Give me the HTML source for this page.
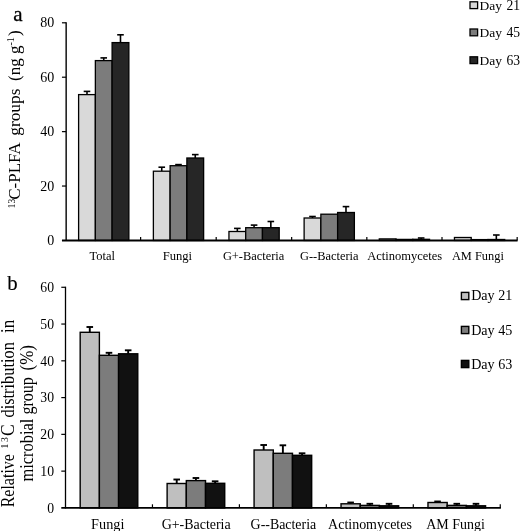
<!DOCTYPE html>
<html><head><meta charset="utf-8"><title>Figure</title>
<style>
html,body{margin:0;padding:0;background:#fff;}
svg{display:block;}
svg text{font-family:"Liberation Serif","Times New Roman",serif;fill:#000;}
</style></head><body>
<svg width="520" height="531" viewBox="0 0 520 531">
<rect x="0" y="0" width="520" height="531" fill="#fff"/>
<line x1="86.99" y1="94.60" x2="86.99" y2="91.40" stroke="#000" stroke-width="1.6"/>
<line x1="83.69" y1="91.40" x2="90.29" y2="91.40" stroke="#000" stroke-width="1.6"/>
<rect x="78.61" y="94.60" width="16.75" height="145.85" fill="#d9d9d9" stroke="#000" stroke-width="1.3"/>
<line x1="103.74" y1="60.60" x2="103.74" y2="57.90" stroke="#000" stroke-width="1.6"/>
<line x1="100.44" y1="57.90" x2="107.04" y2="57.90" stroke="#000" stroke-width="1.6"/>
<rect x="95.36" y="60.60" width="16.75" height="179.85" fill="#7c7c7c" stroke="#000" stroke-width="1.3"/>
<line x1="120.49" y1="42.60" x2="120.49" y2="34.80" stroke="#000" stroke-width="1.6"/>
<line x1="117.19" y1="34.80" x2="123.79" y2="34.80" stroke="#000" stroke-width="1.6"/>
<rect x="112.11" y="42.60" width="16.75" height="197.85" fill="#262626" stroke="#000" stroke-width="1.3"/>
<line x1="161.75" y1="171.20" x2="161.75" y2="167.20" stroke="#000" stroke-width="1.6"/>
<line x1="158.45" y1="167.20" x2="165.06" y2="167.20" stroke="#000" stroke-width="1.6"/>
<rect x="153.38" y="171.20" width="16.75" height="69.25" fill="#d9d9d9" stroke="#000" stroke-width="1.3"/>
<line x1="178.50" y1="165.70" x2="178.50" y2="164.60" stroke="#000" stroke-width="1.6"/>
<line x1="175.20" y1="164.60" x2="181.81" y2="164.60" stroke="#000" stroke-width="1.6"/>
<rect x="170.13" y="165.70" width="16.75" height="74.75" fill="#7c7c7c" stroke="#000" stroke-width="1.3"/>
<line x1="195.25" y1="158.00" x2="195.25" y2="154.60" stroke="#000" stroke-width="1.6"/>
<line x1="191.95" y1="154.60" x2="198.56" y2="154.60" stroke="#000" stroke-width="1.6"/>
<rect x="186.88" y="158.00" width="16.75" height="82.45" fill="#262626" stroke="#000" stroke-width="1.3"/>
<line x1="237.33" y1="231.50" x2="237.33" y2="228.40" stroke="#000" stroke-width="1.6"/>
<line x1="234.03" y1="228.40" x2="240.63" y2="228.40" stroke="#000" stroke-width="1.6"/>
<rect x="228.95" y="231.50" width="16.75" height="8.95" fill="#d9d9d9" stroke="#000" stroke-width="1.3"/>
<line x1="254.08" y1="227.70" x2="254.08" y2="225.10" stroke="#000" stroke-width="1.6"/>
<line x1="250.78" y1="225.10" x2="257.38" y2="225.10" stroke="#000" stroke-width="1.6"/>
<rect x="245.70" y="227.70" width="16.75" height="12.75" fill="#7c7c7c" stroke="#000" stroke-width="1.3"/>
<line x1="270.83" y1="227.70" x2="270.83" y2="221.50" stroke="#000" stroke-width="1.6"/>
<line x1="267.53" y1="221.50" x2="274.13" y2="221.50" stroke="#000" stroke-width="1.6"/>
<rect x="262.45" y="227.70" width="16.75" height="12.75" fill="#262626" stroke="#000" stroke-width="1.3"/>
<line x1="312.49" y1="218.00" x2="312.49" y2="216.50" stroke="#000" stroke-width="1.6"/>
<line x1="309.19" y1="216.50" x2="315.79" y2="216.50" stroke="#000" stroke-width="1.6"/>
<rect x="304.12" y="218.00" width="16.75" height="22.45" fill="#d9d9d9" stroke="#000" stroke-width="1.3"/>
<rect x="320.87" y="214.20" width="16.75" height="26.25" fill="#7c7c7c" stroke="#000" stroke-width="1.3"/>
<line x1="345.99" y1="212.50" x2="345.99" y2="206.60" stroke="#000" stroke-width="1.6"/>
<line x1="342.69" y1="206.60" x2="349.29" y2="206.60" stroke="#000" stroke-width="1.6"/>
<rect x="337.62" y="212.50" width="16.75" height="27.95" fill="#262626" stroke="#000" stroke-width="1.3"/>
<rect x="379.29" y="238.90" width="16.75" height="1.55" fill="#d9d9d9" stroke="#000" stroke-width="1.3"/>
<rect x="396.04" y="239.40" width="16.75" height="1.05" fill="#7c7c7c" stroke="#000" stroke-width="1.3"/>
<line x1="421.17" y1="239.30" x2="421.17" y2="238.00" stroke="#000" stroke-width="1.6"/>
<line x1="417.87" y1="238.00" x2="424.47" y2="238.00" stroke="#000" stroke-width="1.6"/>
<rect x="412.79" y="239.30" width="16.75" height="1.15" fill="#262626" stroke="#000" stroke-width="1.3"/>
<rect x="454.46" y="237.50" width="16.75" height="2.95" fill="#d9d9d9" stroke="#000" stroke-width="1.3"/>
<rect x="471.21" y="239.60" width="16.75" height="0.85" fill="#7c7c7c" stroke="#000" stroke-width="1.3"/>
<line x1="496.33" y1="239.50" x2="496.33" y2="235.00" stroke="#000" stroke-width="1.6"/>
<line x1="493.03" y1="235.00" x2="499.63" y2="235.00" stroke="#000" stroke-width="1.6"/>
<rect x="487.96" y="239.50" width="16.75" height="0.95" fill="#262626" stroke="#000" stroke-width="1.3"/>
<line x1="66.15" y1="22.20" x2="66.15" y2="241.05" stroke="#000" stroke-width="1.4"/>
<line x1="61.95" y1="240.45" x2="517.60" y2="240.45" stroke="#000" stroke-width="1.9"/>
<text x="54.20" y="245.05" font-size="14" text-anchor="end">0</text>
<line x1="61.95" y1="186.04" x2="66.15" y2="186.04" stroke="#000" stroke-width="1.2"/>
<text x="54.20" y="190.64" font-size="14" text-anchor="end">20</text>
<line x1="61.95" y1="131.63" x2="66.15" y2="131.63" stroke="#000" stroke-width="1.2"/>
<text x="54.20" y="136.23" font-size="14" text-anchor="end">40</text>
<line x1="61.95" y1="77.21" x2="66.15" y2="77.21" stroke="#000" stroke-width="1.2"/>
<text x="54.20" y="81.81" font-size="14" text-anchor="end">60</text>
<line x1="61.95" y1="22.80" x2="66.15" y2="22.80" stroke="#000" stroke-width="1.2"/>
<text x="54.20" y="27.40" font-size="14" text-anchor="end">80</text>
<line x1="140.62" y1="240.45" x2="140.62" y2="237.05" stroke="#000" stroke-width="1.2"/>
<line x1="216.19" y1="240.45" x2="216.19" y2="237.05" stroke="#000" stroke-width="1.2"/>
<line x1="291.66" y1="240.45" x2="291.66" y2="237.05" stroke="#000" stroke-width="1.2"/>
<line x1="366.83" y1="240.45" x2="366.83" y2="237.05" stroke="#000" stroke-width="1.2"/>
<line x1="442.00" y1="240.45" x2="442.00" y2="237.05" stroke="#000" stroke-width="1.2"/>
<line x1="517.17" y1="240.45" x2="517.17" y2="237.05" stroke="#000" stroke-width="1.2"/>
<text x="102.24" y="259.80" font-size="12.45" text-anchor="middle">Total</text>
<text x="177.41" y="259.80" font-size="12.6" text-anchor="middle">Fungi</text>
<text x="253.58" y="259.80" font-size="12.4" text-anchor="middle">G+-Bacteria</text>
<text x="329.25" y="259.80" font-size="12.4" text-anchor="middle">G--Bacteria</text>
<text x="404.71" y="259.80" font-size="12.5" text-anchor="middle">Actinomycetes</text>
<text x="477.89" y="259.80" font-size="12.4" text-anchor="middle">AM Fungi</text>
<rect x="470.00" y="1.80" width="7.60" height="6.80" fill="#d9d9d9" stroke="#000" stroke-width="1.3"/>
<text x="479.50" y="9.60" font-size="13.5" text-anchor="start">Day</text>
<text x="506.40" y="9.60" font-size="13.6" text-anchor="start">21</text>
<rect x="470.00" y="29.00" width="7.60" height="6.80" fill="#7c7c7c" stroke="#000" stroke-width="1.3"/>
<text x="479.50" y="37.40" font-size="13.5" text-anchor="start">Day</text>
<text x="506.40" y="37.40" font-size="13.6" text-anchor="start">45</text>
<rect x="470.00" y="56.80" width="7.60" height="6.80" fill="#262626" stroke="#000" stroke-width="1.3"/>
<text x="479.50" y="64.90" font-size="13.5" text-anchor="start">Day</text>
<text x="506.40" y="64.90" font-size="13.6" text-anchor="start">63</text>
<text x="13.30" y="21.30" font-size="21" text-anchor="start" stroke="#000" stroke-width="0.3">a</text>
<text transform="translate(14.90,208.20) rotate(-90) scale(1.0,1)" font-size="9.3">13</text>
<text transform="translate(20.20,199.70) rotate(-90) scale(0.971,1)" font-size="17.5">C-PLFA</text>
<text transform="translate(20.20,135.80) rotate(-90) scale(0.992,1)" font-size="17.5">groups</text>
<text transform="translate(20.20,81.00) rotate(-90) scale(0.971,1)" font-size="17.5">(ng</text>
<text transform="translate(20.20,54.00) rotate(-90) scale(0.971,1)" font-size="17.5">g</text>
<text transform="translate(13.80,45.50) rotate(-90) scale(1.0,1)" font-size="10.0">-1</text>
<text transform="translate(20.20,36.00) rotate(-90) scale(0.971,1)" font-size="17.5">)</text>
<line x1="89.78" y1="332.30" x2="89.78" y2="327.00" stroke="#000" stroke-width="1.9"/>
<line x1="86.48" y1="327.00" x2="93.08" y2="327.00" stroke="#000" stroke-width="1.9"/>
<rect x="80.18" y="332.30" width="19.20" height="175.60" fill="#bfbfbf" stroke="#000" stroke-width="1.4"/>
<line x1="108.98" y1="355.30" x2="108.98" y2="352.80" stroke="#000" stroke-width="1.9"/>
<line x1="105.68" y1="352.80" x2="112.28" y2="352.80" stroke="#000" stroke-width="1.9"/>
<rect x="99.38" y="355.30" width="19.20" height="152.60" fill="#7c7c7c" stroke="#000" stroke-width="1.4"/>
<line x1="128.18" y1="353.80" x2="128.18" y2="350.30" stroke="#000" stroke-width="1.9"/>
<line x1="124.88" y1="350.30" x2="131.48" y2="350.30" stroke="#000" stroke-width="1.9"/>
<rect x="118.58" y="353.80" width="19.20" height="154.10" fill="#111111" stroke="#000" stroke-width="1.4"/>
<line x1="176.72" y1="483.50" x2="176.72" y2="479.50" stroke="#000" stroke-width="1.9"/>
<line x1="173.42" y1="479.50" x2="180.03" y2="479.50" stroke="#000" stroke-width="1.9"/>
<rect x="167.12" y="483.50" width="19.20" height="24.40" fill="#bfbfbf" stroke="#000" stroke-width="1.4"/>
<line x1="195.92" y1="480.60" x2="195.92" y2="478.00" stroke="#000" stroke-width="1.9"/>
<line x1="192.62" y1="478.00" x2="199.22" y2="478.00" stroke="#000" stroke-width="1.9"/>
<rect x="186.32" y="480.60" width="19.20" height="27.30" fill="#7c7c7c" stroke="#000" stroke-width="1.4"/>
<line x1="215.12" y1="483.30" x2="215.12" y2="481.30" stroke="#000" stroke-width="1.9"/>
<line x1="211.82" y1="481.30" x2="218.43" y2="481.30" stroke="#000" stroke-width="1.9"/>
<rect x="205.53" y="483.30" width="19.20" height="24.60" fill="#111111" stroke="#000" stroke-width="1.4"/>
<line x1="263.68" y1="450.00" x2="263.68" y2="445.00" stroke="#000" stroke-width="1.9"/>
<line x1="260.38" y1="445.00" x2="266.98" y2="445.00" stroke="#000" stroke-width="1.9"/>
<rect x="254.08" y="450.00" width="19.20" height="57.90" fill="#bfbfbf" stroke="#000" stroke-width="1.4"/>
<line x1="282.88" y1="453.30" x2="282.88" y2="445.30" stroke="#000" stroke-width="1.9"/>
<line x1="279.58" y1="445.30" x2="286.18" y2="445.30" stroke="#000" stroke-width="1.9"/>
<rect x="273.28" y="453.30" width="19.20" height="54.60" fill="#7c7c7c" stroke="#000" stroke-width="1.4"/>
<line x1="302.08" y1="455.30" x2="302.08" y2="453.30" stroke="#000" stroke-width="1.9"/>
<line x1="298.78" y1="453.30" x2="305.38" y2="453.30" stroke="#000" stroke-width="1.9"/>
<rect x="292.48" y="455.30" width="19.20" height="52.60" fill="#111111" stroke="#000" stroke-width="1.4"/>
<line x1="350.63" y1="503.80" x2="350.63" y2="502.50" stroke="#000" stroke-width="1.9"/>
<line x1="347.33" y1="502.50" x2="353.93" y2="502.50" stroke="#000" stroke-width="1.9"/>
<rect x="341.03" y="503.80" width="19.20" height="4.10" fill="#bfbfbf" stroke="#000" stroke-width="1.4"/>
<line x1="369.83" y1="505.40" x2="369.83" y2="503.80" stroke="#000" stroke-width="1.9"/>
<line x1="366.53" y1="503.80" x2="373.13" y2="503.80" stroke="#000" stroke-width="1.9"/>
<rect x="360.23" y="505.40" width="19.20" height="2.50" fill="#7c7c7c" stroke="#000" stroke-width="1.4"/>
<line x1="389.03" y1="505.80" x2="389.03" y2="503.80" stroke="#000" stroke-width="1.9"/>
<line x1="385.73" y1="503.80" x2="392.33" y2="503.80" stroke="#000" stroke-width="1.9"/>
<rect x="379.43" y="505.80" width="19.20" height="2.10" fill="#111111" stroke="#000" stroke-width="1.4"/>
<line x1="437.58" y1="502.50" x2="437.58" y2="501.50" stroke="#000" stroke-width="1.9"/>
<line x1="434.28" y1="501.50" x2="440.88" y2="501.50" stroke="#000" stroke-width="1.9"/>
<rect x="427.98" y="502.50" width="19.20" height="5.40" fill="#bfbfbf" stroke="#000" stroke-width="1.4"/>
<line x1="456.78" y1="505.40" x2="456.78" y2="503.80" stroke="#000" stroke-width="1.9"/>
<line x1="453.48" y1="503.80" x2="460.08" y2="503.80" stroke="#000" stroke-width="1.9"/>
<rect x="447.18" y="505.40" width="19.20" height="2.50" fill="#7c7c7c" stroke="#000" stroke-width="1.4"/>
<line x1="475.98" y1="505.80" x2="475.98" y2="503.80" stroke="#000" stroke-width="1.9"/>
<line x1="472.68" y1="503.80" x2="479.28" y2="503.80" stroke="#000" stroke-width="1.9"/>
<rect x="466.38" y="505.80" width="19.20" height="2.10" fill="#111111" stroke="#000" stroke-width="1.4"/>
<line x1="65.50" y1="286.70" x2="65.50" y2="508.50" stroke="#000" stroke-width="1.3"/>
<line x1="61.30" y1="507.90" x2="500.90" y2="507.90" stroke="#000" stroke-width="1.9"/>
<text x="54.00" y="512.60" font-size="13.7" text-anchor="end">0</text>
<line x1="61.30" y1="471.13" x2="65.50" y2="471.13" stroke="#000" stroke-width="1.2"/>
<text x="54.00" y="475.83" font-size="13.7" text-anchor="end">10</text>
<line x1="61.30" y1="434.36" x2="65.50" y2="434.36" stroke="#000" stroke-width="1.2"/>
<text x="54.00" y="439.06" font-size="13.7" text-anchor="end">20</text>
<line x1="61.30" y1="397.59" x2="65.50" y2="397.59" stroke="#000" stroke-width="1.2"/>
<text x="54.00" y="402.29" font-size="13.7" text-anchor="end">30</text>
<line x1="61.30" y1="360.82" x2="65.50" y2="360.82" stroke="#000" stroke-width="1.2"/>
<text x="54.00" y="365.52" font-size="13.7" text-anchor="end">40</text>
<line x1="61.30" y1="324.05" x2="65.50" y2="324.05" stroke="#000" stroke-width="1.2"/>
<text x="54.00" y="328.75" font-size="13.7" text-anchor="end">50</text>
<line x1="61.30" y1="287.28" x2="65.50" y2="287.28" stroke="#000" stroke-width="1.2"/>
<text x="54.00" y="291.98" font-size="13.7" text-anchor="end">60</text>
<line x1="152.45" y1="507.90" x2="152.45" y2="504.30" stroke="#000" stroke-width="1.2"/>
<line x1="239.40" y1="507.90" x2="239.40" y2="504.30" stroke="#000" stroke-width="1.2"/>
<line x1="326.35" y1="507.90" x2="326.35" y2="504.30" stroke="#000" stroke-width="1.2"/>
<line x1="413.30" y1="507.90" x2="413.30" y2="504.30" stroke="#000" stroke-width="1.2"/>
<line x1="500.25" y1="507.90" x2="500.25" y2="504.30" stroke="#000" stroke-width="1.2"/>
<text x="107.75" y="529.30" font-size="14.25" text-anchor="middle">Fungi</text>
<text x="196.15" y="529.30" font-size="13.95" text-anchor="middle">G+-Bacteria</text>
<text x="283.40" y="529.30" font-size="13.9" text-anchor="middle">G--Bacteria</text>
<text x="370.00" y="529.30" font-size="13.98" text-anchor="middle">Actinomycetes</text>
<text x="455.55" y="529.30" font-size="13.96" text-anchor="middle">AM Fungi</text>
<rect x="461.40" y="292.40" width="7.40" height="7.20" fill="#bfbfbf" stroke="#000" stroke-width="1.4"/>
<text x="471.20" y="300.30" font-size="14.1" text-anchor="start">Day 21</text>
<rect x="461.40" y="326.40" width="7.40" height="7.20" fill="#7c7c7c" stroke="#000" stroke-width="1.4"/>
<text x="471.20" y="334.50" font-size="14.1" text-anchor="start">Day 45</text>
<rect x="461.40" y="360.40" width="7.40" height="7.20" fill="#111111" stroke="#000" stroke-width="1.4"/>
<text x="471.20" y="368.60" font-size="14.1" text-anchor="start">Day 63</text>
<text x="7.30" y="290.00" font-size="20.8" text-anchor="start" stroke="#000" stroke-width="0.15">b</text>
<text transform="translate(13.60,507.30) rotate(-90) scale(0.868,1)" font-size="18.4">Relative</text>
<text transform="translate(7.60,448.40) rotate(-90) scale(1.0,1)" font-size="9.6" letter-spacing="1.6">13</text>
<text transform="translate(13.60,436.00) rotate(-90) scale(0.95,1)" font-size="18.4">C</text>
<text transform="translate(13.60,417.50) rotate(-90) scale(0.888,1)" font-size="18.4">distribution</text>
<text transform="translate(13.60,333.00) rotate(-90) scale(0.92,1)" font-size="18.4">in</text>
<text transform="translate(33.30,481.60) rotate(-90) scale(0.894,1)" font-size="18.4">microbial</text>
<text transform="translate(33.30,414.60) rotate(-90) scale(0.875,1)" font-size="18.4">group</text>
<text transform="translate(33.30,370.50) rotate(-90) scale(0.92,1)" font-size="18.4">(%)</text>
</svg>
</body></html>
